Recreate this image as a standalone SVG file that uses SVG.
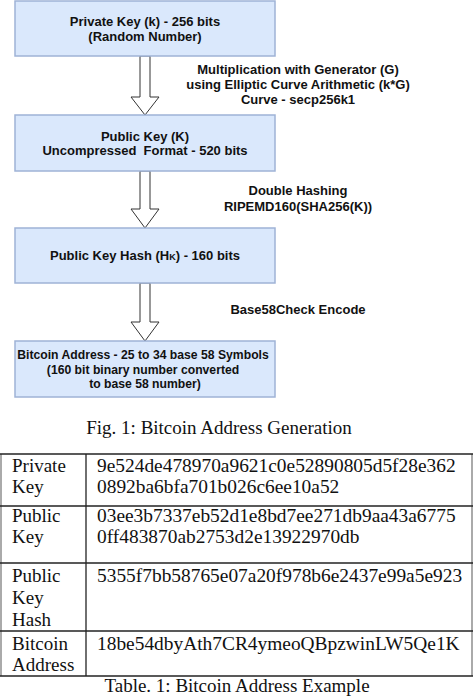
<svg xmlns="http://www.w3.org/2000/svg" width="474" height="696" viewBox="0 0 474 696">
<style>
.box{fill:#dae8fc;stroke:#9fb3d6;stroke-width:1.5}
.bt{font-family:"Liberation Sans",Arial,sans-serif;font-weight:bold;font-size:13px;fill:#111;text-anchor:middle}
.sm{font-size:12.2px}
.arr{fill:#fff;stroke:#333;stroke-width:1}
.cap{font-family:"Liberation Serif","Times New Roman",serif;font-size:19px;fill:#111;text-anchor:middle}
.td{font-family:"Liberation Serif","Times New Roman",serif;font-size:19px;fill:#111}
.tv{font-size:19.4px}
.tl{stroke:#222;stroke-width:1.3}
.tg{stroke:#aaa;stroke-width:2}
</style>
<rect width="474" height="696" fill="#fff"/>
<g id="connectors">
<path class="arr" d="M140,56 L150,56 L150,97 L159,97 L145,115 L131,97 L140,97 Z"/>
<path class="arr" d="M140,171 L150,171 L150,209 L159,209 L145,228 L131,209 L140,209 Z"/>
<path class="arr" d="M140,283 L150,283 L150,322 L159,322 L145,341 L131,322 L140,322 Z"/>
<text class="bt" x="298" y="74">Multiplication with Generator (G)</text>
<text class="bt" x="298" y="89">using Elliptic Curve Arithmetic (k*G)</text>
<text class="bt" x="298" y="104">Curve - secp256k1</text>
<text class="bt" x="298" y="195">Double Hashing</text>
<text class="bt" x="298" y="211">RIPEMD160(SHA256(K))</text>
<text class="bt" x="298" y="314">Base58Check Encode</text>
</g>
<g id="private-key">
<rect class="box" x="15" y="1" width="260" height="55"/>
<text class="bt" x="145" y="26">Private Key (k) - 256 bits</text>
<text class="bt" x="145" y="41">(Random Number)</text>
</g>
<g id="public-key">
<rect class="box" x="15" y="115" width="260" height="56"/>
<text class="bt" x="145" y="141">Public Key (K)</text>
<text class="bt" x="145" y="155" style="white-space:pre">Uncompressed  Format - 520 bits</text>
</g>
<g id="public-key-hash">
<rect class="box" x="15" y="228" width="260" height="55"/>
<text class="bt" x="145" y="260">Public Key Hash (H<tspan font-size="9">K</tspan>) - 160 bits</text>
</g>
<g id="bitcoin-address">
<rect class="box" x="15" y="341" width="260" height="56"/>
<text class="bt sm" x="143" y="359">Bitcoin Address - 25 to 34 base 58 Symbols</text>
<text class="bt sm" x="143" y="374">(160 bit binary number converted</text>
<text class="bt sm" x="145" y="388">to base 58 number)</text>
</g>
<text class="cap" x="219" y="434">Fig. 1: Bitcoin Address Generation</text>
<g id="table">
<line class="tg" x1="1" y1="454" x2="1" y2="676"/>
<line class="tg" x1="472" y1="454" x2="472" y2="676"/>
<line class="tl" x1="0" y1="454" x2="473" y2="454"/>
<line class="tl" x1="0" y1="506" x2="473" y2="506"/>
<line class="tl" x1="0" y1="563" x2="473" y2="563"/>
<line class="tl" x1="0" y1="631" x2="473" y2="631"/>
<line class="tl" x1="0" y1="676" x2="473" y2="676"/>
<line class="tl" x1="86" y1="454" x2="86" y2="676"/>
<text class="td" x="12" y="472">Private</text>
<text class="td" x="12" y="493">Key</text>
<text class="td tv" x="97" y="472">9e524de478970a9621c0e52890805d5f28e362</text>
<text class="td tv" x="97" y="493">0892ba6bfa701b026c6ee10a52</text>
<text class="td" x="12" y="522">Public</text>
<text class="td" x="12" y="543">Key</text>
<text class="td tv" x="97" y="522">03ee3b7337eb52d1e8bd7ee271db9aa43a6775</text>
<text class="td tv" x="97" y="543">0ff483870ab2753d2e13922970db</text>
<text class="td" x="12" y="582">Public</text>
<text class="td" x="12" y="604">Key</text>
<text class="td" x="12" y="626">Hash</text>
<text class="td tv" x="97" y="582">5355f7bb58765e07a20f978b6e2437e99a5e923</text>
<text class="td" x="12" y="650">Bitcoin</text>
<text class="td" x="12" y="671">Address</text>
<text class="td tv" x="97" y="650">18be54dbyAth7CR4ymeoQBpzwinLW5Qe1K</text>
</g>
<text class="cap" x="237" y="692">Table. 1: Bitcoin Address Example</text>
</svg>
